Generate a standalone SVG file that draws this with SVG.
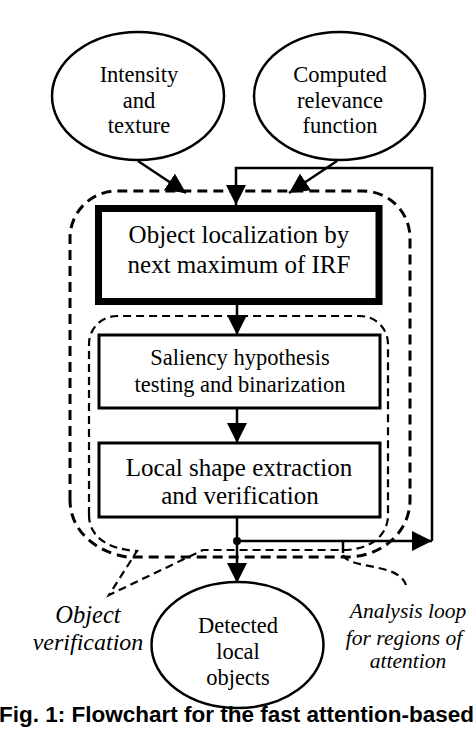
<svg xmlns="http://www.w3.org/2000/svg" width="474" height="734" viewBox="0 0 474 734">
<style>
.ell{fill:#fff;stroke:#000;stroke-width:2.5}
.box{fill:#fff;stroke:#000;stroke-width:3}
.thick{fill:#fff;stroke:#000;stroke-width:7}
.t{fill:#000;text-anchor:middle}
.it{font-style:italic;fill:#000;text-anchor:middle}
.con{fill:none;stroke:#000;stroke-width:2.5}
.dash1{fill:none;stroke:#000;stroke-width:3;stroke-dasharray:10 6}
.dash2{fill:none;stroke:#000;stroke-width:2.2;stroke-dasharray:8 5}
</style>
<defs>
<marker id="ah" markerUnits="userSpaceOnUse" markerWidth="20" markerHeight="20" viewBox="0 0 20 20" refX="20" refY="10" orient="auto">
<path d="M0,0 L20,10 L0,20 Z" fill="#000"/>
</marker>
</defs>
<rect width="474" height="734" fill="#fff"/>

<g id="region-outer">
<path class="dash1" d="M70,500 V238 A47 47 0 0 1 117,191 H363 A47 47 0 0 1 410,238 V500 C410,530 385,555 350,557 H127 C95,552 70,530 70,500 Z"/>
</g>
<g id="region-inner">
<path class="dash2" d="M89,515 V344 A28 28 0 0 1 117,316 H360 A28 28 0 0 1 388,344 V515 C388,535 372,548 347,550 H203 L109,595 L137,551 C105,549 89,535 89,515 Z"/>
</g>

<g font-family="Liberation Serif, Tinos, Times New Roman, serif">
<g id="n-intensity">
<ellipse class="ell" cx="138" cy="96" rx="86" ry="64"/>
<text class="t" font-size="22.5" x="139" y="82">Intensity</text>
<text class="t" font-size="22.5" x="139" y="108">and</text>
<text class="t" font-size="22.5" x="139" y="133">texture</text>
</g>
<g id="n-relevance">
<ellipse class="ell" cx="339.5" cy="96" rx="85.5" ry="64"/>
<text class="t" font-size="22.5" x="340" y="82">Computed</text>
<text class="t" font-size="22.5" x="340" y="108">relevance</text>
<text class="t" font-size="22.5" x="340" y="133">function</text>
</g>
<g id="n-localization">
<rect class="thick" x="98.5" y="208.5" width="280.5" height="93"/>
<text class="t" font-size="25" x="239" y="243">Object localization by</text>
<text class="t" font-size="25" x="239" y="273">next maximum of IRF</text>
</g>
<g id="n-saliency">
<rect class="box" x="99" y="335" width="281" height="73"/>
<text class="t" font-size="22.5" x="240" y="365">Saliency hypothesis</text>
<text class="t" font-size="22.5" x="240" y="392">testing and binarization</text>
</g>
<g id="n-shape">
<rect class="box" x="99" y="443" width="281" height="74"/>
<text class="t" font-size="25" x="239" y="476">Local shape extraction</text>
<text class="t" font-size="25" x="240" y="504">and verification</text>
</g>
<g id="n-detected">
<ellipse class="ell" cx="237.5" cy="645" rx="86" ry="63"/>
<text class="t" font-size="22.5" x="238" y="633">Detected</text>
<text class="t" font-size="22.5" x="238" y="659">local</text>
<text class="t" font-size="22.5" x="238" y="685">objects</text>
</g>
<g id="labels">
<text class="it" font-size="24.5" x="88" y="623">Object</text>
<text class="it" font-size="24" x="88" y="650">verification</text>
<text class="it" font-size="21.5" x="408" y="618">Analysis loop</text>
<text class="it" font-size="21.5" x="404" y="645">for regions of</text>
<text class="it" font-size="21.5" x="408" y="668">attention</text>
</g>
</g>

<g id="connectors">
<path class="con" d="M138,161 L186,193" marker-end="url(#ah)"/>
<path class="con" d="M337,161 L289,193" marker-end="url(#ah)"/>
<path class="con" d="M432,541 V168 H236 V205" marker-end="url(#ah)"/>
<path class="con" d="M237,302 V335" marker-end="url(#ah)"/>
<path class="con" d="M237,408 V443" marker-end="url(#ah)"/>
<path class="con" d="M237,517 V583" marker-end="url(#ah)"/>
<path class="con" d="M237,541 H432" marker-end="url(#ah)"/>
<circle cx="237" cy="541" r="4" fill="#000"/>
<path class="con" d="M343,541 V553"/>
<path class="dash2" stroke-width="2.5" d="M343,555 C350,570 398,562 406,585"/>
</g>

<text x="-1" y="722" font-family="Liberation Sans, Arial, sans-serif" font-weight="bold" font-size="22.5" fill="#000">Fig. 1: Flowchart for the fast attention-based</text>
</svg>
